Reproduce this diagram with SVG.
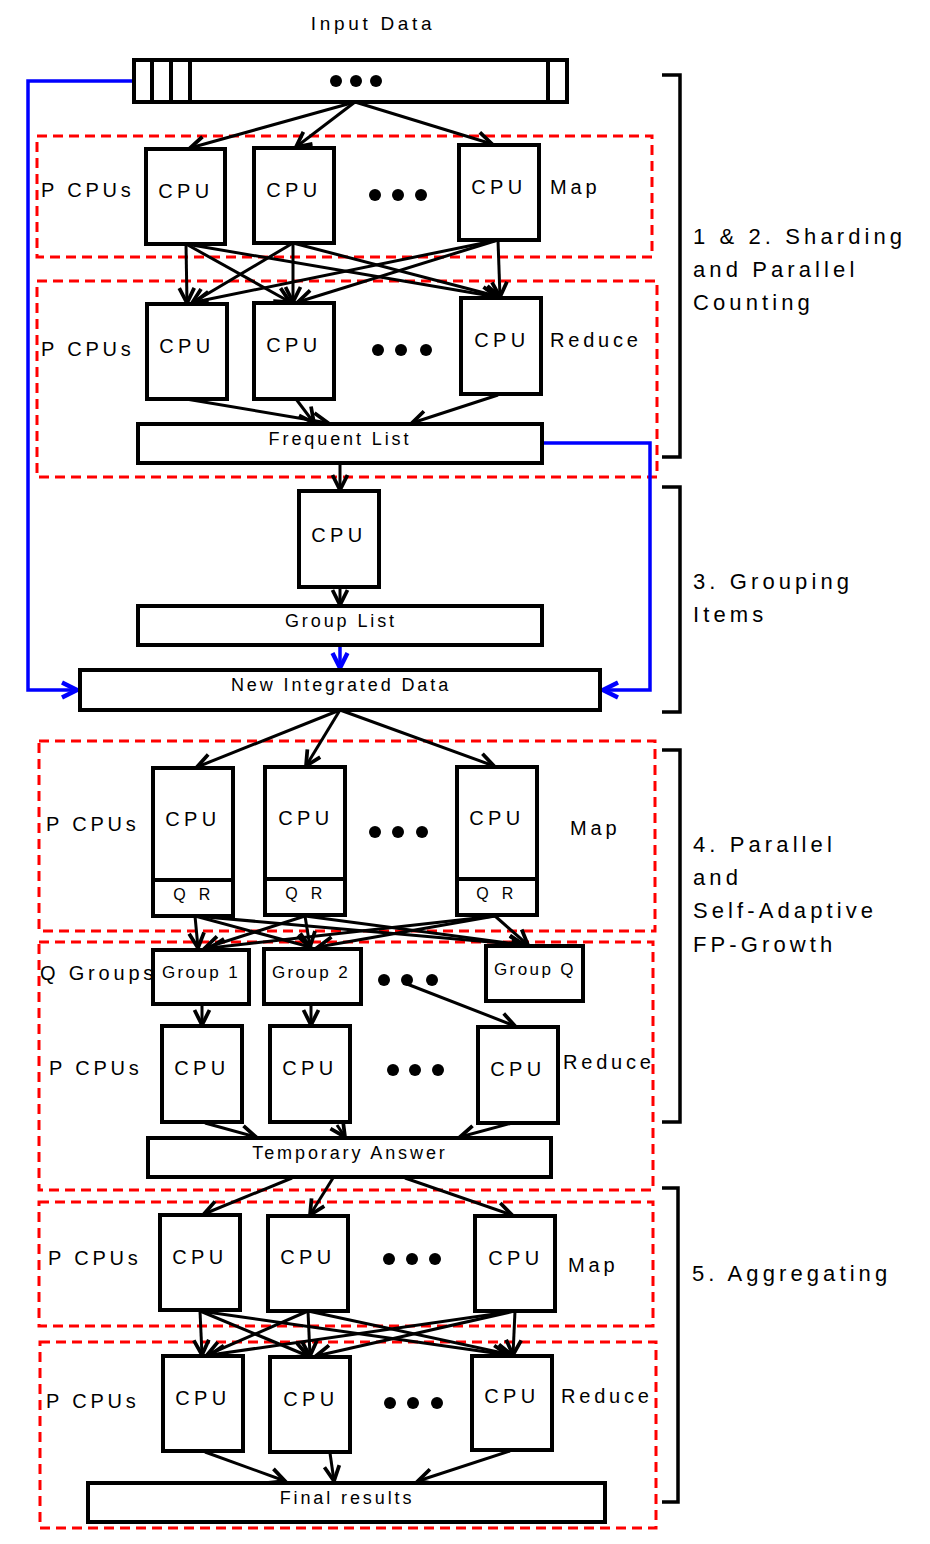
<svg xmlns="http://www.w3.org/2000/svg" width="930" height="1544" viewBox="0 0 930 1544">
<style>
text{font-family:"Liberation Sans",Arial,sans-serif;fill:#000}
.box{fill:#fff;stroke:#000;stroke-width:4}
.cpu{font-size:20px;letter-spacing:4.4px;text-anchor:middle}
.lbl{font-size:20px;letter-spacing:3.8px}
.bar{font-size:18px;letter-spacing:2.9px;text-anchor:middle}
.grp{font-size:17px;letter-spacing:2.4px;text-anchor:middle}
.qr{font-size:16px;letter-spacing:4.3px;text-anchor:middle}
.side{font-size:22px;letter-spacing:4.1px}
.red{fill:none;stroke:#f00;stroke-width:3;stroke-dasharray:10 6}
.brk{fill:none;stroke:#000;stroke-width:3.5}
.arr{stroke:#000;stroke-width:3;fill:none;marker-end:url(#ah)}
.blue{stroke:#00f;stroke-width:3.5;fill:none}
.barr{marker-end:url(#bh)}
.dot{fill:#000}
</style>
<defs>
<marker id="ah" markerUnits="userSpaceOnUse" markerWidth="20" markerHeight="20" viewBox="-14 -8 16 16" refX="0" refY="0" orient="auto">
<path d="M-12,-6 L0,0 L-12,6" fill="none" stroke="#000" stroke-width="3"/>
</marker>
<marker id="bh" markerUnits="userSpaceOnUse" markerWidth="20" markerHeight="20" viewBox="-14 -8 16 16" refX="0" refY="0" orient="auto">
<path d="M-12,-6 L0,0 L-12,6" fill="none" stroke="#00f" stroke-width="3.5"/>
</marker>
</defs>
<rect width="930" height="1544" fill="#fff"/>

<!-- dashed regions -->
<g id="regions">
<rect class="red" x="37" y="136" width="615" height="121"/>
<rect class="red" x="37" y="281" width="620" height="196"/>
<rect class="red" x="39" y="741" width="616" height="190"/>
<rect class="red" x="39" y="942" width="614" height="248"/>
<rect class="red" x="39" y="1202" width="614" height="124"/>
<rect class="red" x="40" y="1342" width="616" height="186"/>
</g>

<!-- brackets and stage labels -->
<g id="stages">
<path class="brk" d="M662,75 H680 V457 H662"/>
<path class="brk" d="M662,487 H680 V712 H662"/>
<path class="brk" d="M662,750 H680 V1122 H662"/>
<path class="brk" d="M662,1188 H678 V1502 H662"/>
<text class="side" x="693" y="244">1 &amp; 2. Sharding</text>
<text class="side" x="693" y="277">and Parallel</text>
<text class="side" x="693" y="310">Counting</text>
<text class="side" x="693" y="589">3. Grouping</text>
<text class="side" x="693" y="622">Items</text>
<text class="side" x="693" y="852">4. Parallel</text>
<text class="side" x="693" y="885">and</text>
<text class="side" x="693" y="918">Self-Adaptive</text>
<text class="side" x="693" y="952">FP-Growth</text>
<text class="side" x="692" y="1281">5. Aggregating</text>
</g>

<!-- row labels -->
<g id="rowlabels">
<text class="lbl" x="41" y="197">P CPUs</text>
<text class="lbl" x="550" y="194">Map</text>
<text class="lbl" x="41" y="356">P CPUs</text>
<text class="lbl" x="550" y="347">Reduce</text>
<text class="lbl" x="46" y="831">P CPUs</text>
<text class="lbl" x="570" y="835">Map</text>
<text class="lbl" x="40" y="980">Q Groups</text>
<text class="lbl" x="49" y="1075">P CPUs</text>
<text class="lbl" x="563" y="1069">Reduce</text>
<text class="lbl" x="48" y="1265">P CPUs</text>
<text class="lbl" x="568" y="1272">Map</text>
<text class="lbl" x="46" y="1408">P CPUs</text>
<text class="lbl" x="561" y="1403">Reduce</text>
</g>

<!-- connectors -->
<g id="connectors">
<!-- blue feedback lines -->
<path class="blue barr" d="M134,81 H28 V690 H77"/>
<path class="blue barr" d="M542,443 H650 V690 H603"/>
<path class="blue barr" d="M340,645 V668"/>
<!-- input to map -->
<path class="arr" d="M355,102 L190,148"/>
<path class="arr" d="M355,102 L296,147"/>
<path class="arr" d="M355,102 L492,144"/>
<!-- map to reduce (stage 1&2) -->
<path class="arr" d="M186,244 L187,303"/>
<path class="arr" d="M186,244 L290,302"/>
<path class="arr" d="M186,244 L497,297"/>
<path class="arr" d="M293,243 L192,303"/>
<path class="arr" d="M293,243 L293,302"/>
<path class="arr" d="M293,243 L500,297"/>
<path class="arr" d="M498,240 L195,302"/>
<path class="arr" d="M498,240 L298,302"/>
<path class="arr" d="M498,240 L500,297"/>
<!-- reduce to frequent list -->
<path class="arr" d="M186,399 L328,423"/>
<path class="arr" d="M296,399 L314,423"/>
<path class="arr" d="M498,395 L412,423"/>
<path class="arr" d="M340,463 V490"/>
<path class="arr" d="M340,588 V605"/>
<!-- new integrated data to map -->
<path class="arr" d="M340,710 L197,767"/>
<path class="arr" d="M340,710 L306,766"/>
<path class="arr" d="M340,710 L494,766"/>
<!-- QR to groups -->
<path class="arr" d="M195,916 L198,948"/>
<path class="arr" d="M195,916 L310,947"/>
<path class="arr" d="M195,916 L524,945"/>
<path class="arr" d="M305,916 L205,948"/>
<path class="arr" d="M305,916 L310,947"/>
<path class="arr" d="M305,916 L524,945"/>
<path class="arr" d="M495,916 L210,948"/>
<path class="arr" d="M495,916 L318,947"/>
<path class="arr" d="M495,916 L528,945"/>
<!-- groups to reduce CPUs -->
<path class="arr" d="M202,1004 V1025"/>
<path class="arr" d="M311,1004 V1025"/>
<path class="arr" d="M407,984 L515,1026"/>
<!-- reduce to temporary answer -->
<path class="arr" d="M205,1123 L256,1137"/>
<path class="arr" d="M337,1125 L345,1137"/>
<path class="arr" d="M512,1123 L460,1137"/>
<!-- temporary answer to map -->
<path class="arr" d="M292,1178 L204,1214"/>
<path class="arr" d="M333,1178 L310,1215"/>
<path class="arr" d="M405,1178 L512,1215"/>
<!-- map to reduce (stage 5) -->
<path class="arr" d="M200,1311 L202,1355"/>
<path class="arr" d="M200,1311 L308,1356"/>
<path class="arr" d="M200,1311 L508,1355"/>
<path class="arr" d="M308,1311 L207,1355"/>
<path class="arr" d="M308,1311 L310,1356"/>
<path class="arr" d="M308,1311 L512,1355"/>
<path class="arr" d="M515,1311 L210,1355"/>
<path class="arr" d="M515,1311 L316,1356"/>
<path class="arr" d="M515,1311 L513,1355"/>
<!-- reduce to final results -->
<path class="arr" d="M205,1452 L285,1481"/>
<path class="arr" d="M330,1453 L334,1481"/>
<path class="arr" d="M510,1451 L418,1481"/>
</g>

<!-- input data -->
<g id="input">
<text class="bar" x="373" y="30" style="font-size:19px;letter-spacing:3.7px">Input Data</text>
<rect class="box" x="134" y="60" width="433" height="42"/>
<path d="M152,60 V102 M171,60 V102 M190,60 V102 M548,60 V102" stroke="#000" stroke-width="4"/>
<circle class="dot" cx="336" cy="81" r="6"/>
<circle class="dot" cx="356" cy="81" r="6"/>
<circle class="dot" cx="376" cy="81" r="6"/>
</g>

<!-- stage 1&2 map CPUs -->
<g id="map1-cpu1"><rect class="box" x="146" y="149" width="79" height="95"/><text class="cpu" x="186" y="198">CPU</text></g>
<g id="map1-cpu2"><rect class="box" x="254" y="148" width="80" height="95"/><text class="cpu" x="294" y="197">CPU</text></g>
<g id="map1-cpu3"><rect class="box" x="459" y="145" width="80" height="95"/><text class="cpu" x="499" y="194">CPU</text></g>
<g id="map1-dots"><circle class="dot" cx="375" cy="195" r="6"/><circle class="dot" cx="398" cy="195" r="6"/><circle class="dot" cx="421" cy="195" r="6"/></g>

<!-- stage 1&2 reduce CPUs -->
<g id="red1-cpu1"><rect class="box" x="147" y="304" width="80" height="95"/><text class="cpu" x="187" y="353">CPU</text></g>
<g id="red1-cpu2"><rect class="box" x="254" y="303" width="80" height="96"/><text class="cpu" x="294" y="352">CPU</text></g>
<g id="red1-cpu3"><rect class="box" x="461" y="298" width="80" height="96"/><text class="cpu" x="502" y="347">CPU</text></g>
<g id="red1-dots"><circle class="dot" cx="378" cy="350" r="6"/><circle class="dot" cx="401" cy="350" r="6"/><circle class="dot" cx="426" cy="350" r="6"/></g>

<g id="frequent-list"><rect class="box" x="138" y="424" width="404" height="39"/><text class="bar" x="340" y="445">Frequent List</text></g>

<g id="group-cpu"><rect class="box" x="299" y="491" width="80" height="96"/><text class="cpu" x="339" y="542">CPU</text></g>

<g id="group-list"><rect class="box" x="138" y="606" width="404" height="39"/><text class="bar" x="341" y="627">Group List</text></g>

<g id="new-integrated-data"><rect class="box" x="80" y="670" width="520" height="40"/><text class="bar" x="341" y="691">New Integrated Data</text></g>

<!-- stage 4 map CPUs with Q R -->
<g id="map4-cpu1"><rect class="box" x="153" y="768" width="80" height="148"/><path d="M153,880 H233" stroke="#000" stroke-width="4"/><text class="cpu" x="193" y="826">CPU</text><text class="qr" x="194" y="900">Q R</text></g>
<g id="map4-cpu2"><rect class="box" x="265" y="767" width="80" height="148"/><path d="M265,879 H345" stroke="#000" stroke-width="4"/><text class="cpu" x="306" y="825">CPU</text><text class="qr" x="306" y="899">Q R</text></g>
<g id="map4-cpu3"><rect class="box" x="457" y="767" width="80" height="148"/><path d="M457,879 H537" stroke="#000" stroke-width="4"/><text class="cpu" x="497" y="825">CPU</text><text class="qr" x="497" y="899">Q R</text></g>
<g id="map4-dots"><circle class="dot" cx="375" cy="832" r="6"/><circle class="dot" cx="398" cy="832" r="6"/><circle class="dot" cx="422" cy="832" r="6"/></g>

<!-- groups -->
<g id="group1"><rect class="box" x="153" y="950" width="96" height="54"/><text class="grp" x="201" y="978">Group 1</text></g>
<g id="group2"><rect class="box" x="264" y="949" width="97" height="55"/><text class="grp" x="311" y="978">Group 2</text></g>
<g id="groupQ"><rect class="box" x="486" y="946" width="97" height="55"/><text class="grp" x="535" y="975">Group Q</text></g>
<g id="group-dots"><circle class="dot" cx="384" cy="980" r="6"/><circle class="dot" cx="407" cy="980" r="6"/><circle class="dot" cx="432" cy="980" r="6"/></g>

<!-- stage 4 reduce CPUs -->
<g id="red4-cpu1"><rect class="box" x="162" y="1026" width="80" height="96"/><text class="cpu" x="202" y="1075">CPU</text></g>
<g id="red4-cpu2"><rect class="box" x="270" y="1026" width="80" height="96"/><text class="cpu" x="310" y="1075">CPU</text></g>
<g id="red4-cpu3"><rect class="box" x="478" y="1027" width="80" height="96"/><text class="cpu" x="518" y="1076">CPU</text></g>
<g id="red4-dots"><circle class="dot" cx="393" cy="1070" r="6"/><circle class="dot" cx="415" cy="1070" r="6"/><circle class="dot" cx="438" cy="1070" r="6"/></g>

<g id="temporary-answer"><rect class="box" x="148" y="1138" width="403" height="39"/><text class="bar" x="350" y="1159">Temporary Answer</text></g>

<!-- stage 5 map CPUs -->
<g id="map5-cpu1"><rect class="box" x="160" y="1215" width="80" height="95"/><text class="cpu" x="200" y="1264">CPU</text></g>
<g id="map5-cpu2"><rect class="box" x="268" y="1216" width="80" height="95"/><text class="cpu" x="308" y="1264">CPU</text></g>
<g id="map5-cpu3"><rect class="box" x="475" y="1216" width="80" height="95"/><text class="cpu" x="516" y="1265">CPU</text></g>
<g id="map5-dots"><circle class="dot" cx="389" cy="1259" r="6"/><circle class="dot" cx="412" cy="1259" r="6"/><circle class="dot" cx="435" cy="1259" r="6"/></g>

<!-- stage 5 reduce CPUs -->
<g id="red5-cpu1"><rect class="box" x="163" y="1356" width="80" height="95"/><text class="cpu" x="203" y="1405">CPU</text></g>
<g id="red5-cpu2"><rect class="box" x="270" y="1357" width="80" height="95"/><text class="cpu" x="311" y="1406">CPU</text></g>
<g id="red5-cpu3"><rect class="box" x="472" y="1356" width="80" height="94"/><text class="cpu" x="512" y="1403">CPU</text></g>
<g id="red5-dots"><circle class="dot" cx="390" cy="1403" r="6"/><circle class="dot" cx="413" cy="1403" r="6"/><circle class="dot" cx="437" cy="1403" r="6"/></g>

<g id="final-results"><rect class="box" x="88" y="1483" width="517" height="39"/><text class="bar" x="347" y="1504">Final results</text></g>
</svg>
